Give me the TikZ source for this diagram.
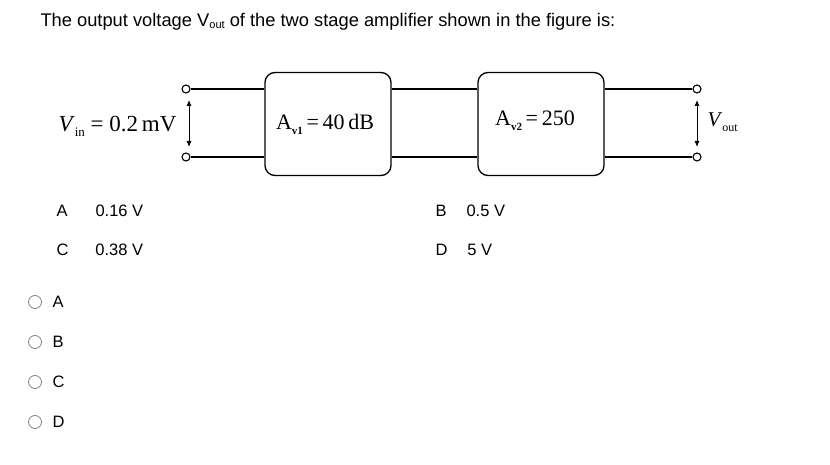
\documentclass[tikz,border=0pt]{standalone}
\usepackage{fontspec}
\usetikzlibrary{arrows.meta}
\setmainfont{Liberation Sans}
\newfontfamily\serifx{Liberation Serif}
\begin{document}
\begin{tikzpicture}[x=1pt,y=-1pt,
  wire/.style={line width=1.3pt},
  amp/.style={draw,line width=1.3pt,rounded corners=10pt,minimum width=126pt,minimum height=103pt},
  term/.style={circle,draw,line width=1.1pt,fill=white,inner sep=0pt,minimum size=8pt},
  txt/.style={font=\fontsize{16.5}{18}\selectfont,anchor=west},
  radio/.style={circle,draw=gray,line width=0.8pt,inner sep=0pt,minimum size=13pt},
  sarrow/.style={{Latex[length=6pt,width=5pt]}-{Latex[length=6pt,width=5pt]},line width=0.9pt}]
\useasboundingbox (0,0) rectangle (830,465);
\node[anchor=west,font=\fontsize{18.3}{20}\selectfont] (title) at (37,22) {The output voltage V\raisebox{-0.2ex}{\fontsize{11}{12}\selectfont out} of the two stage amplifier shown in the figure is:};
\node[amp] (b1) at (328,124) {};
\node[amp] (b2) at (541,124) {};
\node[font=\serifx\fontsize{22}{24}\selectfont] (l1) at (325,124) {A\raisebox{-0.5ex}{\fontsize{11}{12}\selectfont\bfseries v1}\,=\,40\,dB};
\node[font=\serifx\fontsize{22}{24}\selectfont] (l2) at (535,121) {A\raisebox{-0.5ex}{\fontsize{11}{12}\selectfont\bfseries v2}\,=\,250};
\node[term] (t1) at (186,89) {};
\node[term] (t2) at (186,157) {};
\node[term] (t3) at (697,89) {};
\node[term] (t4) at (697,157) {};
\draw[wire] (t1) -- (b1.west|-t1); \draw[wire] (t2) -- (b1.west|-t2);
\draw[wire] (b1.east|-t1) -- (b2.west|-t1); \draw[wire] (b1.east|-t2) -- (b2.west|-t2);
\draw[wire] (b2.east|-t1) -- (t3); \draw[wire] (b2.east|-t2) -- (t4);
\coordinate (a1) at (189,100); \coordinate (a2) at (189,147);
\coordinate (a3) at (697,100); \coordinate (a4) at (697,147);
\draw[sarrow] (a1) -- (a2);
\draw[sarrow] (a3) -- (a4);
\node[anchor=east,font=\serifx\fontsize{23}{25}\selectfont] (vin) at (180,126) {\textit{V}\raisebox{-0.5ex}{\fontsize{13}{14}\selectfont in} = 0.2\,mV};
\node[anchor=west,font=\serifx\fontsize{21}{23}\selectfont] (vout) at (704,122) {\textit{V}\raisebox{-0.5ex}{\fontsize{12}{13}\selectfont out}};
\node[txt] (oa) at (53,211) {A\hspace{28pt}0.16 V};
\node[txt] (oc) at (53,250) {C\hspace{27pt}0.38 V};
\node[txt] (ob) at (432,211) {B\hspace{20pt}0.5 V};
\node[txt] (od) at (432,250) {D\hspace{20pt}5 V};
\foreach \y/\l [count=\i] in {302/A,342/B,382/C,422/D}{
  \node[radio] (r\i) at (35,\y) {};
  \node[txt] (rl\i) at (49,\y) {\l};
}
\end{tikzpicture}
\end{document}
